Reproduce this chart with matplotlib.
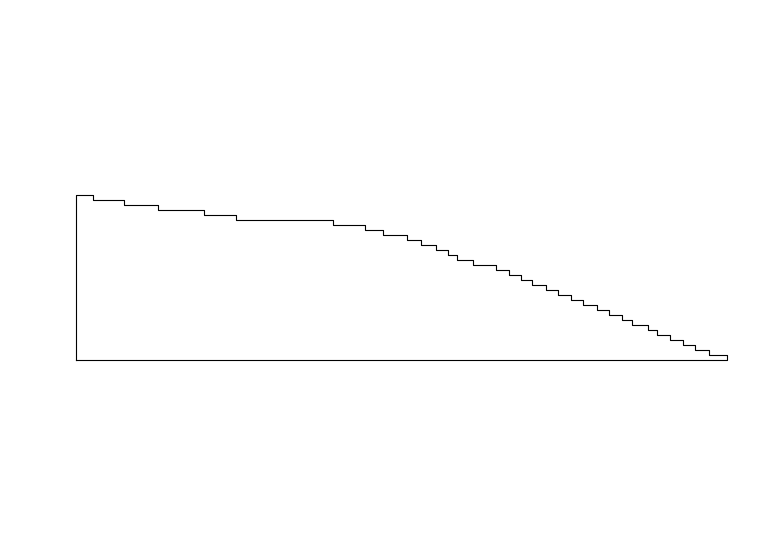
import matplotlib
matplotlib.use("Agg")
import matplotlib.pyplot as plt
import numpy as np

# Step break positions (x) and levels (count remaining)
breaks = [2.61, 7.32, 12.54, 19.70, 24.57, 39.51, 44.42, 47.14, 50.82, 52.93,
          55.32, 57.16, 58.54, 61.00, 64.53, 66.44, 68.32, 70.06, 72.12, 74.05,
          76.05, 77.84, 79.95, 81.79, 83.88, 85.42, 87.87, 89.21, 91.25, 93.15,
          95.00, 97.14]
levels = list(range(33, 0, -1))  # 33 .. 1
x_end = 100.0

fig = plt.figure(figsize=(7.68, 5.43), dpi=100)
ax = fig.add_axes([76/768, 183/543, 651.3/768, 165/543])

xs = [0.0, 0.0]
ys = [0.0, levels[0]]
edges = breaks + [x_end]
for i, lv in enumerate(levels):
    xs.append(edges[i]); ys.append(lv)
    if i + 1 < len(levels):
        xs.append(edges[i]); ys.append(levels[i + 1])
xs += [x_end, 0.0]
ys += [0.0, 0.0]

ax.plot(xs, ys, color="black", linewidth=0.8, clip_on=False)
ax.set_xlim(0, x_end)
ax.set_ylim(0, levels[0])
ax.axis("off")

fig.savefig("out.png", dpi=100)
